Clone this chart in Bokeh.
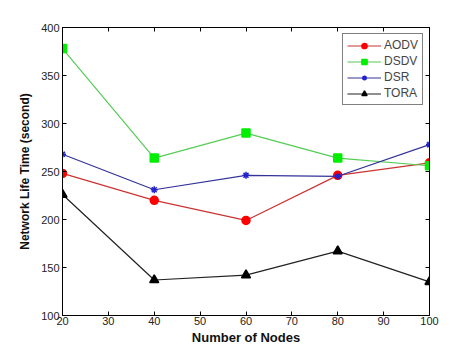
from bokeh.plotting import figure
from bokeh.models import Range1d, LinearAxis, FixedTicker, Legend, LegendItem, CustomJSTickFormatter
from bokeh.embed import file_html
from bokeh.resources import INLINE

nodes = [20, 40, 60, 80, 100]
aodv = [248, 220, 199, 246, 259]
dsdv = [378, 264, 290, 264, 256]
dsr = [268, 231, 246, 245, 278]
tora = [226, 137, 142, 167, 135]
x_ticks = [20, 30, 40, 50, 60, 70, 80, 90, 100]
y_ticks = [100, 150, 200, 250, 300, 350, 400]

p = figure(width=466, height=347, output_backend="svg", toolbar_location=None,
           x_range=Range1d(20, 100), y_range=Range1d(100, 400),
           min_border_left=62, min_border_right=37, min_border_top=27, min_border_bottom=31)
p.grid.visible = False
p.outline_line_color = "black"
p.background_fill_color = "white"

FONT = "Liberation Sans"
for ax in [p.xaxis[0], p.yaxis[0]]:
    ax.major_tick_in = 4
    ax.major_tick_out = 0
    ax.minor_tick_line_color = None
    ax.axis_line_color = "black"
    ax.major_label_text_font = FONT
    ax.major_label_text_font_size = "11px"
    ax.major_label_text_color = "#222222"
    ax.axis_label_text_font = FONT
    ax.axis_label_text_font_style = "bold"
    ax.axis_label_text_color = "#111111"
p.xaxis.axis_label_text_font_size = "13px"
p.yaxis.axis_label_text_font_size = "12px"
p.xaxis.ticker = FixedTicker(ticks=x_ticks)
p.yaxis.ticker = FixedTicker(ticks=y_ticks)
p.xaxis.axis_label = "Number of Nodes"
p.yaxis.axis_label = "Network Life Time (second)"
p.xaxis.axis_label_standoff = 2
p.yaxis.axis_label_standoff = 6
p.xaxis.major_label_standoff = 1
p.yaxis.major_label_standoff = 3

blank = CustomJSTickFormatter(code="return ''")
top = LinearAxis(ticker=FixedTicker(ticks=x_ticks), formatter=blank,
                 major_tick_in=4, major_tick_out=0, minor_tick_line_color=None)
right = LinearAxis(ticker=FixedTicker(ticks=y_ticks), formatter=blank,
                   major_tick_in=4, major_tick_out=0, minor_tick_line_color=None)
p.add_layout(top, "above")
p.add_layout(right, "right")

series = [
    ("AODV", aodv, "#cc3333", "#ff0000", "circle", 8),
    ("DSDV", dsdv, "#55cc55", "#00ee00", "square", 8),
    ("DSR", dsr, "#333399", "#2222cc", "asterisk", 7),
    ("TORA", tora, "#222222", "#000000", "triangle", 9),
]
items = []
for name, ys, lc, mc, mk, sz in series:
    l = p.line(nodes, ys, line_color=lc, line_width=1.2)
    s = p.scatter(nodes, ys, marker=mk, size=sz, fill_color=mc, line_color=mc, line_width=1.5)
    items.append(LegendItem(label=name, renderers=[l, s]))

legend = Legend(items=items, location="top_right", border_line_color="black",
                label_text_font=FONT, label_text_font_size="12px",
                glyph_width=34, spacing=2, padding=4, margin=6,
                label_height=12, glyph_height=13, label_standoff=3)
p.add_layout(legend)

open("out.html", "w").write(file_html(p, INLINE))
